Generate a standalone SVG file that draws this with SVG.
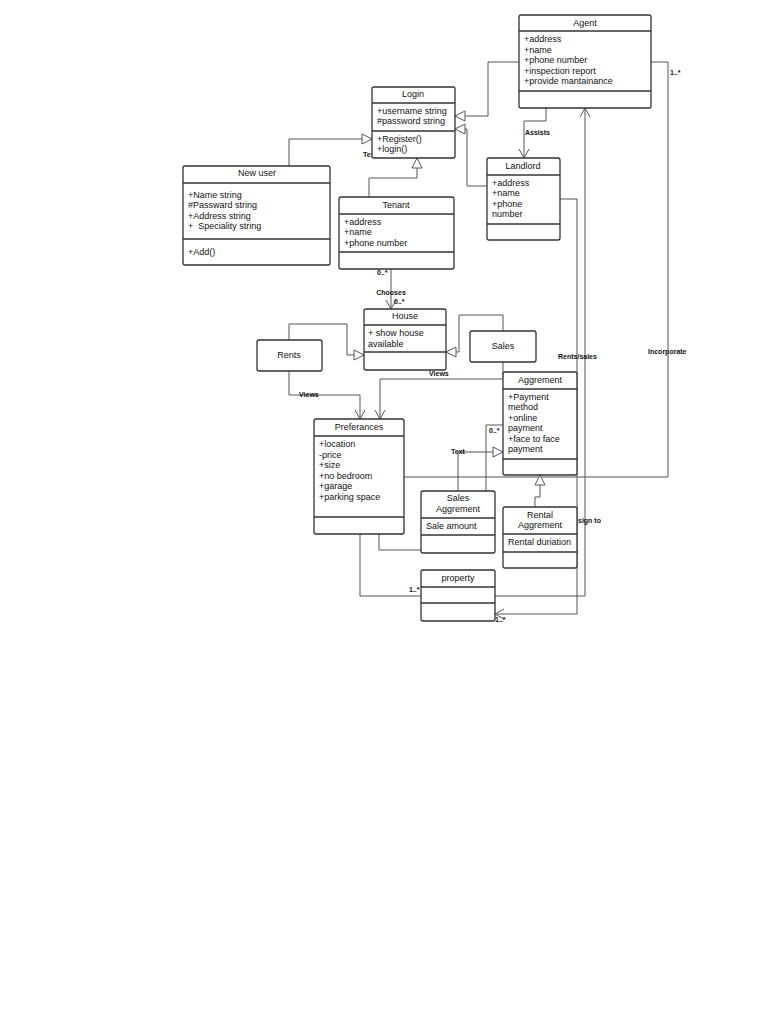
<svg xmlns="http://www.w3.org/2000/svg" width="768" height="1024" viewBox="0 0 768 1024">
<style>
.b{fill:#fff;stroke:#333;stroke-width:1.3}
.s{stroke:#333;stroke-width:1.3}
.t{font-family:"Liberation Sans",Arial,sans-serif;font-size:9px;fill:#111}
.c{text-anchor:middle}
.l{font-family:"Liberation Sans",Arial,sans-serif;font-size:7px;font-weight:bold;fill:#111}
.w{fill:none;stroke:#555;stroke-width:1}
</style>
<defs>
<marker id="tri" markerWidth="12" markerHeight="12" refX="11" refY="6" orient="auto" markerUnits="userSpaceOnUse"><path d="M1,1 L11,6 L1,11 Z" fill="#fff" stroke="#555"/></marker>
<marker id="open" markerWidth="12" markerHeight="12" refX="10" refY="6" orient="auto" markerUnits="userSpaceOnUse"><path d="M1,1 L10,6 L1,11" fill="none" stroke="#555"/></marker>
</defs>
<rect width="768" height="1024" fill="#fff"/>
<g id="connectors">
<path class="w" d="M519,62 H488 V116 H455" marker-end="url(#tri)"/>
<path class="w" d="M487,186 H467 V129 H455" marker-end="url(#tri)"/>
<path class="w" d="M289,166 V139 H372" marker-end="url(#tri)"/>
<path class="w" d="M369,197 V178 H417 V158" marker-end="url(#tri)"/>
<path class="w" d="M546,108 V121 H524 V158" marker-end="url(#open)"/>
<path class="w" d="M651,62 H668 V477 H404"/>
<path class="w" d="M560,199 H577 V614 H495" marker-end="url(#open)"/>
<path class="w" d="M495,596 H585 V108" marker-end="url(#open)"/>
<path class="w" d="M391,269 V309" marker-end="url(#open)"/>
<path class="w" d="M289,340 V324 H347 V355 H364" marker-end="url(#tri)"/>
<path class="w" d="M503,331 V315 H459 V352 H446" marker-end="url(#tri)"/>
<path class="w" d="M289,371 V395 H360 V419" marker-end="url(#open)"/>
<path class="w" d="M503,362 V379 H380 V419" marker-end="url(#open)"/>
<path class="w" d="M458,491 V452 H503" marker-end="url(#tri)"/>
<path class="w" d="M486,491 V425 H503"/>
<path class="w" d="M535,507 V497 H540 V475" marker-end="url(#tri)"/>
<path class="w" d="M379,534 V550 H421"/>
<path class="w" d="M360,534 V596 H421"/>
<text class="l" x="363" y="157">Text</text>
<text class="l" x="525" y="135">Assists</text>
<text class="l" x="670" y="75">1..*</text>
<text class="l" x="648" y="354">Incorporate</text>
<text class="l" x="558" y="359">Rents/sales</text>
<text class="l" x="578" y="523">sign to</text>
<text class="l" x="495" y="622">1..*</text>
<text class="l" x="377" y="275">0..*</text>
<text class="l c" x="391" y="295">Chooses</text>
<text class="l" x="394" y="304">0..*</text>
<text class="l" x="299" y="397">Views</text>
<text class="l" x="429" y="376">Views</text>
<text class="l" x="451" y="454">Text</text>
<text class="l" x="489" y="433">0..*</text>
<text class="l" x="409" y="592">1..*</text>
</g>
<g id="agent"><rect class="b" x="519" y="15" width="132" height="93" rx="2"/><line class="s" x1="519" y1="31" x2="651" y2="31"/><line class="s" x1="519" y1="91" x2="651" y2="91"/>
<text class="t c" x="585" y="26">Agent</text><text class="t" x="524" y="42">+address</text><text class="t" x="524" y="53">+name</text><text class="t" x="524" y="63">+phone number</text><text class="t" x="524" y="74">+inspection report</text><text class="t" x="524" y="84">+provide mantainance</text></g>
<g id="login"><rect class="b" x="372" y="87" width="83" height="71" rx="2"/><line class="s" x1="372" y1="103" x2="455" y2="103"/><line class="s" x1="372" y1="131" x2="455" y2="131"/>
<text class="t c" x="413" y="97">Login</text><text class="t" x="377" y="114">+username string</text><text class="t" x="377" y="124">#password string</text><text class="t" x="377" y="142">+Register()</text><text class="t" x="377" y="152">+login()</text></g>
<g id="newuser"><rect class="b" x="183" y="166" width="147" height="99" rx="2"/><line class="s" x1="183" y1="183" x2="330" y2="183"/><line class="s" x1="183" y1="239" x2="330" y2="239"/>
<text class="t c" x="257" y="176">New user</text><text class="t" x="188" y="198">+Name string</text><text class="t" x="188" y="208">#Passward string</text><text class="t" x="188" y="219">+Address string</text><text class="t" x="188" y="229" xml:space="preserve">+  Speciality string</text><text class="t" x="188" y="255">+Add()</text></g>
<g id="tenant"><rect class="b" x="339" y="197" width="115" height="72" rx="2"/><line class="s" x1="339" y1="214" x2="454" y2="214"/><line class="s" x1="339" y1="252" x2="454" y2="252"/>
<text class="t c" x="396" y="208">Tenant</text><text class="t" x="344" y="225">+address</text><text class="t" x="344" y="235">+name</text><text class="t" x="344" y="246">+phone number</text></g>
<g id="landlord"><rect class="b" x="487" y="158" width="73" height="82" rx="2"/><line class="s" x1="487" y1="175" x2="560" y2="175"/><line class="s" x1="487" y1="224" x2="560" y2="224"/>
<text class="t c" x="523" y="169">Landlord</text><text class="t" x="492" y="186">+address</text><text class="t" x="492" y="196">+name</text><text class="t" x="492" y="207">+phone</text><text class="t" x="492" y="217">number</text></g>
<g id="house"><rect class="b" x="364" y="309" width="82" height="61" rx="2"/><line class="s" x1="364" y1="325" x2="446" y2="325"/><line class="s" x1="364" y1="352" x2="446" y2="352"/>
<text class="t c" x="405" y="319">House</text><text class="t" x="368" y="336">+ show house</text><text class="t" x="368" y="347">available</text></g>
<g id="rents"><rect class="b" x="257" y="340" width="65" height="31" rx="2"/><text class="t c" x="289" y="358">Rents</text></g>
<g id="sales"><rect class="b" x="470" y="331" width="66" height="31" rx="2"/><text class="t c" x="503" y="349">Sales</text></g>
<g id="aggrement"><rect class="b" x="503" y="372" width="74" height="103" rx="2"/><line class="s" x1="503" y1="389" x2="577" y2="389"/><line class="s" x1="503" y1="459" x2="577" y2="459"/>
<text class="t c" x="540" y="383">Aggrement</text><text class="t" x="508" y="400">+Payment</text><text class="t" x="508" y="410">method</text><text class="t" x="508" y="421">+online</text><text class="t" x="508" y="431">payment</text><text class="t" x="508" y="442">+face to face</text><text class="t" x="508" y="452">payment</text></g>
<g id="preferances"><rect class="b" x="314" y="419" width="90" height="115" rx="2"/><line class="s" x1="314" y1="436" x2="404" y2="436"/><line class="s" x1="314" y1="517" x2="404" y2="517"/>
<text class="t c" x="359" y="430">Preferances</text><text class="t" x="319" y="447">+location</text><text class="t" x="319" y="458">-price</text><text class="t" x="319" y="468">+size</text><text class="t" x="319" y="479">+no bedroom</text><text class="t" x="319" y="489">+garage</text><text class="t" x="319" y="500">+parking space</text></g>
<g id="salesaggrement"><rect class="b" x="421" y="491" width="74" height="62" rx="2"/><line class="s" x1="421" y1="518" x2="495" y2="518"/><line class="s" x1="421" y1="535" x2="495" y2="535"/>
<text class="t c" x="458" y="501">Sales</text><text class="t c" x="458" y="512">Aggrement</text><text class="t" x="426" y="529">Sale amount</text></g>
<g id="rentalaggrement"><rect class="b" x="503" y="507" width="74" height="61" rx="2"/><line class="s" x1="503" y1="534" x2="577" y2="534"/><line class="s" x1="503" y1="552" x2="577" y2="552"/>
<text class="t c" x="540" y="518">Rental</text><text class="t c" x="540" y="528">Aggrement</text><text class="t" x="508" y="545">Rental duriation</text></g>
<g id="property"><rect class="b" x="421" y="570" width="74" height="51" rx="2"/><line class="s" x1="421" y1="587" x2="495" y2="587"/><line class="s" x1="421" y1="603" x2="495" y2="603"/>
<text class="t c" x="458" y="581">property</text></g>
</svg>
